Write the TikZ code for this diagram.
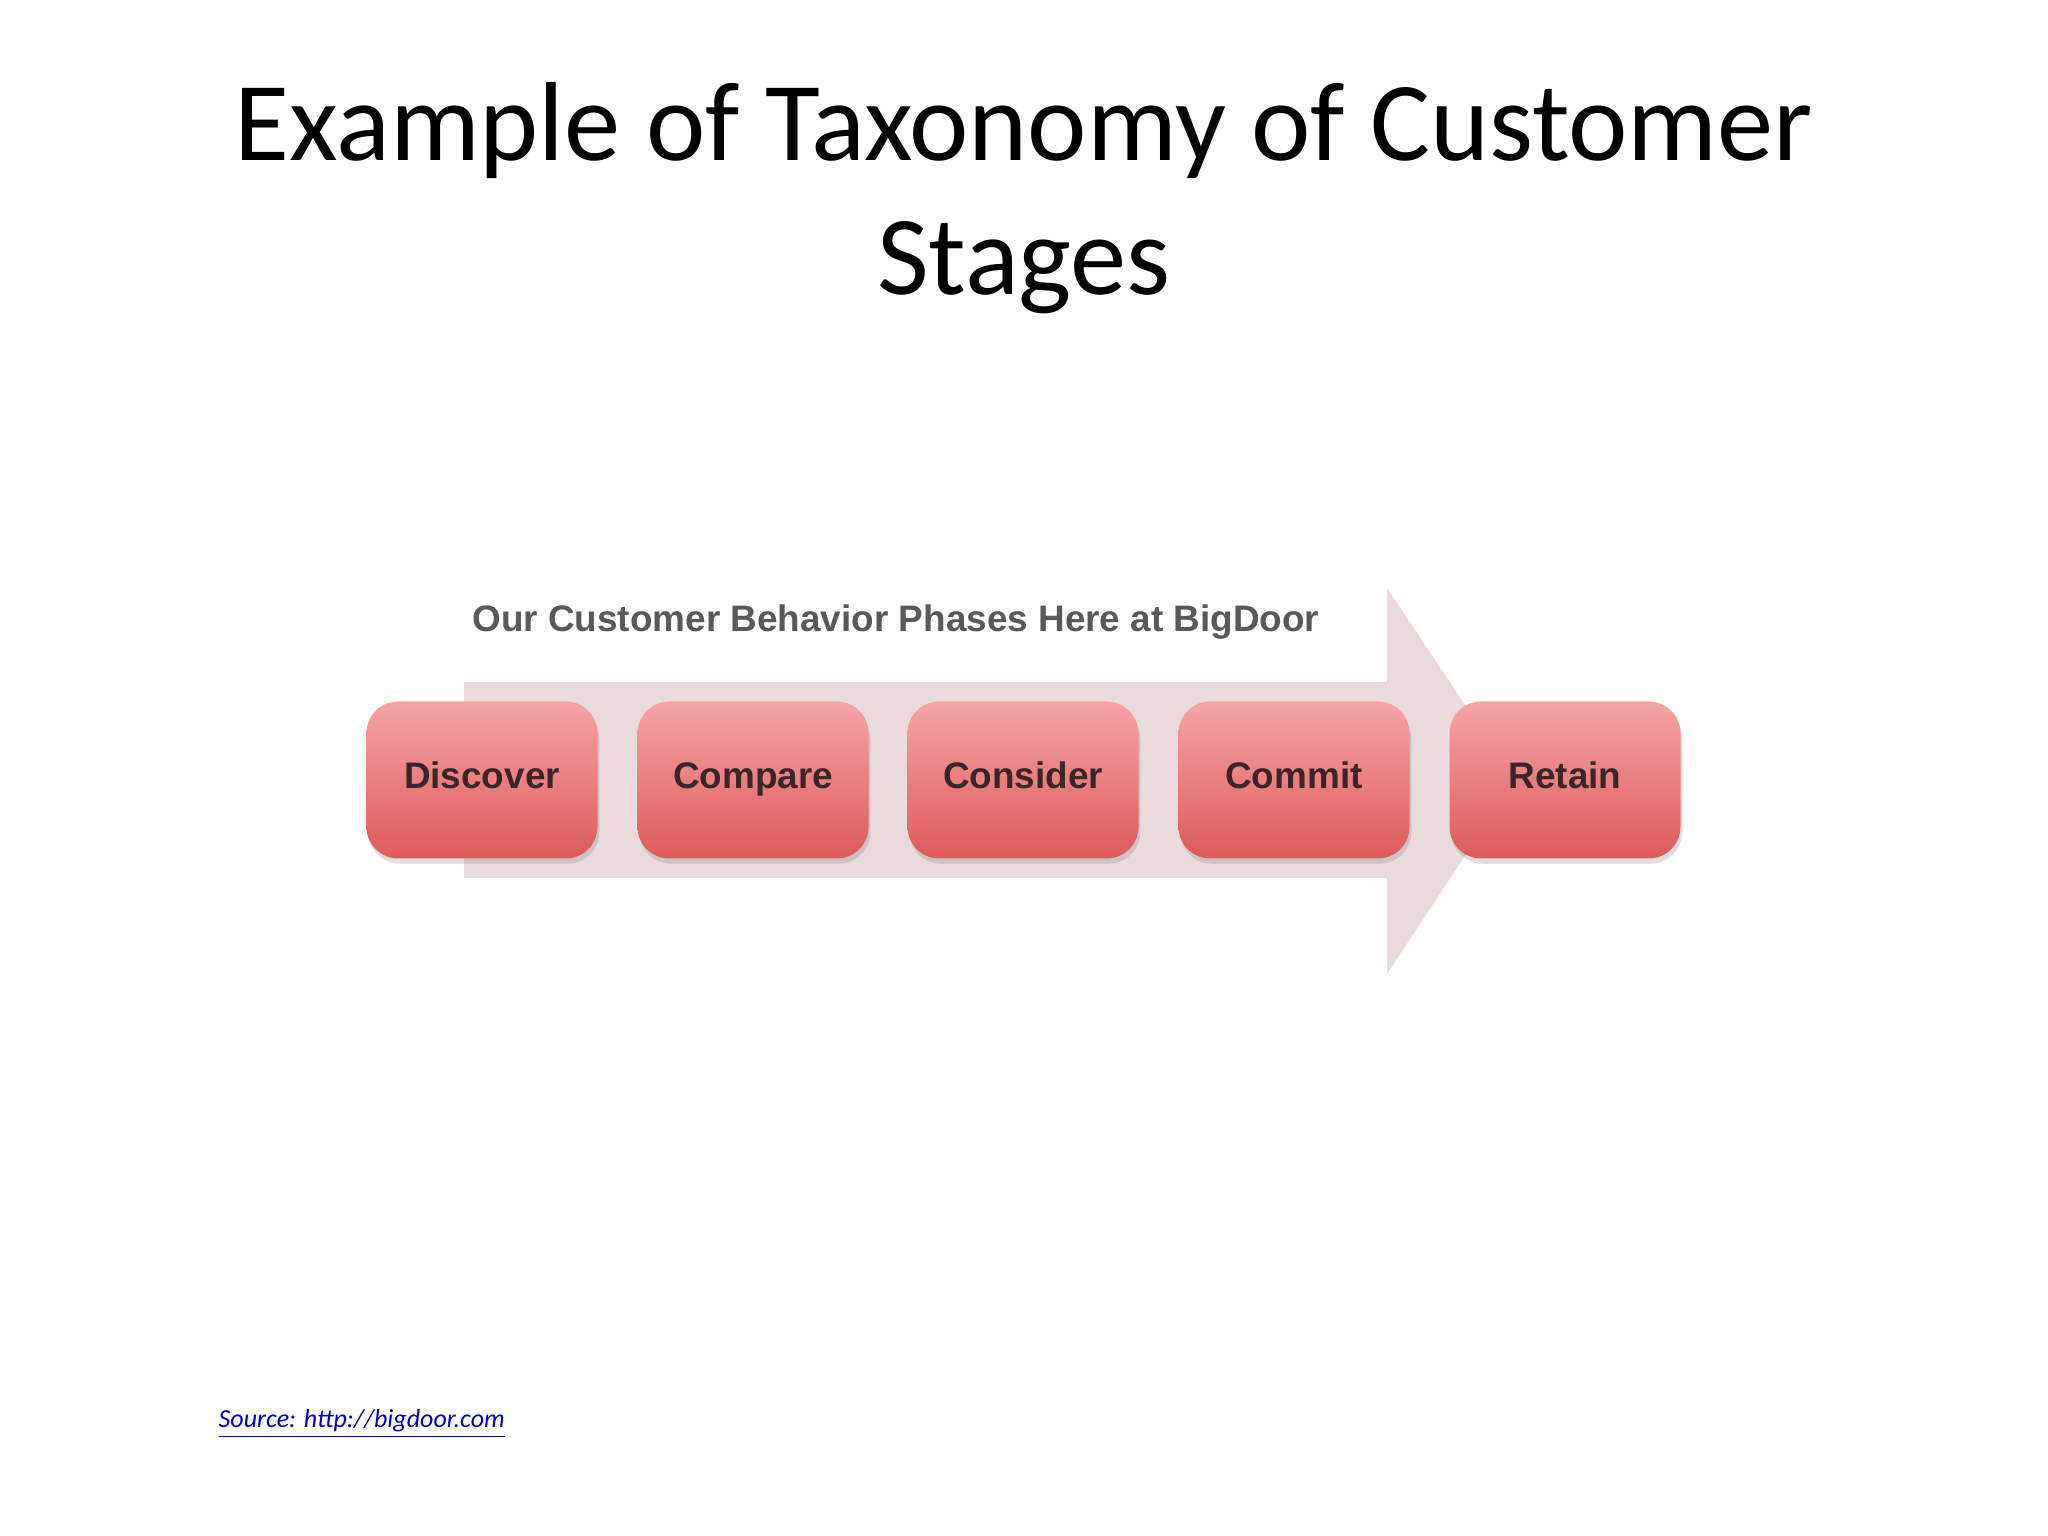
\documentclass[tikz,border=0pt]{standalone}
\usepackage{fontspec}
\setmainfont{Carlito}
\newfontfamily\arialf{Liberation Sans}
\usetikzlibrary{shadows}
\definecolor{arrowc}{HTML}{E9DADC}
\definecolor{boxtop}{HTML}{F5A5A5}
\definecolor{boxbot}{HTML}{DE5A5A}
\definecolor{boxtxt}{HTML}{3A2626}
\definecolor{hdr}{HTML}{595959}
\tikzset{
  stagebox/.style={draw=none,rounded corners=9pt,minimum width=2.31cm,minimum height=1.57cm,
    top color=boxtop,bottom color=boxbot,drop shadow={opacity=0.25,shadow xshift=0.5pt,shadow yshift=-1.5pt},
    font=\arialf\bfseries\fontsize{10.5}{12}\selectfont,text=boxtxt,text height=2.6mm,text depth=0.8mm},
}
\begin{document}
\begin{tikzpicture}[x=1cm,y=1cm]
\useasboundingbox (0,0) rectangle (20.48,15.36);
\node[font=\fontsize{32}{40}\selectfont,align=center] (title) at (10.24,13.38)
  {Example of Taxonomy of Customer\\[-2pt]Stages};
\fill[arrowc] (4.64,8.54) -- (13.87,8.54) -- (13.87,9.48) -- (15.15,7.56) -- (13.87,5.62) -- (13.87,6.58) -- (4.64,6.58) -- cycle;
\node[font=\arialf\bfseries\fontsize{10.5}{12}\selectfont,text=hdr,anchor=west] (hd) at (4.6,9.14)
  {Our Customer Behavior Phases Here at BigDoor};
\node[stagebox] (s1) at (4.82,7.56) {Discover};
\node[stagebox] (s2) at (7.53,7.56) {Compare};
\node[stagebox] (s3) at (10.23,7.56) {Consider};
\node[stagebox] (s4) at (12.94,7.56) {Commit};
\node[stagebox] (s5) at (15.65,7.56) {Retain};
\node[anchor=west,inner sep=0pt,font=\itshape\fontsize{7.4}{9}\selectfont,text=blue!80!black] (src) at (2.18,1.12)
  {\underline{Source: http://bigdoor.com}};
\end{tikzpicture}
\end{document}
